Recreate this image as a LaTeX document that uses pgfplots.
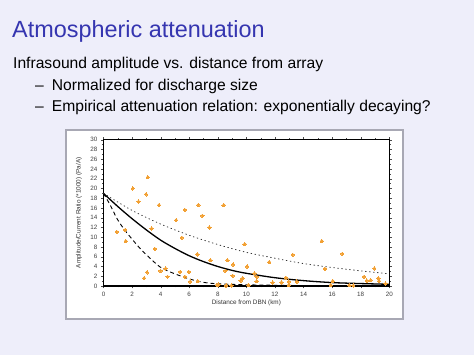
\documentclass[border=0pt]{standalone}
\usepackage{pgfplots}
\pgfplotsset{compat=1.18}
\usepackage{fontspec}
\setmainfont{Liberation Sans}
\definecolor{slidebg}{HTML}{EEEEFA}
\definecolor{titleblue}{HTML}{3535B0}
\definecolor{dotorange}{HTML}{F2A033}
\definecolor{boxgray}{HTML}{A8A8B4}
\begin{document}
\begin{tikzpicture}
\fill[slidebg] (0,0) rectangle (474bp,355bp);
\node[anchor=base west, inner sep=0, text=titleblue, font=\fontsize{23.5}{28}\selectfont] at (12bp,317.3bp) {Atmospheric attenuation};
\node[anchor=base west, inner sep=0, font=\fontsize{15.7}{19}\selectfont] at (13bp,286bp) {Infrasound amplitude vs. distance from array};
\node[anchor=base west, inner sep=0, font=\fontsize{15.7}{19}\selectfont] at (35bp,264.3bp) {–};
\node[anchor=base west, inner sep=0, font=\fontsize{15.7}{19}\selectfont] at (51.7bp,264.3bp) {Normalized for discharge size};
\node[anchor=base west, inner sep=0, font=\fontsize{15.7}{19}\selectfont] at (35bp,243.3bp) {–};
\node[anchor=base west, inner sep=0, font=\fontsize{15.7}{19}\selectfont] at (51.7bp,243.3bp) {Empirical attenuation relation: exponentially decaying?};
\draw[boxgray, line width=1.2bp, fill=white] (66bp,36bp) rectangle (403bp,225bp);
\begin{axis}[
  at={(103.5bp,69bp)}, anchor=south west,
  scale only axis, width=285.8bp, height=146.3bp,
  xmin=0, xmax=20, ymin=0, ymax=30,
  xtick={0,2,...,20}, ytick={0,2,...,30},
  minor x tick num=1, minor y tick num=1,
  tick pos=both, tick align=outside,
  major tick length=2.5bp, minor tick length=1.5bp,
  every tick/.style={black!70, line width=0.3bp},
  axis line style={black, line width=1.1bp},
  /pgf/number format/assume math mode=true,
  ticklabel style={font=\fontsize{6.3}{7}\selectfont, text=black!75},
  xticklabel pos=lower, yticklabel pos=left,
  xlabel={Distance from DBN (km)},
  ylabel={Amplitude/Current Ratio (*1000) (Pa/A)},
  label style={font=\fontsize{6.4}{7}\selectfont, text=black!80},
  xlabel style={at={(axis description cs:0.5,0)}, anchor=north, yshift=-10bp},
  ylabel style={at={(axis description cs:0,0.5)}, anchor=south, yshift=18bp},
  clip=false,
]
\addplot[dotorange, only marks, mark=*, mark size=1.7bp, mark options={fill=dotorange, draw=dotorange, line width=0pt}] coordinates {
(0.93,11.1) (1.52,11.5) (1.56,9.2) (2.05,20.0) (2.45,17.3) (2.98,18.8) (3.1,22.3)
(3.05,2.8) (2.84,1.6) (3.36,11.8) (3.59,7.6) (3.89,16.6) (3.99,3.1) (4.34,3.6)
(4.48,1.9) (5.08,13.5) (5.36,2.9) (5.48,9.9) (5.69,15.6) (5.69,1.9) (5.97,2.9)
(6.06,0.9) (6.64,16.6) (6.57,6.5) (6.6,1.0) (6.92,14.4) (7.41,12.0) (7.48,5.3)
(7.93,0.2) (8.04,0.3) (8.41,16.6) (8.53,3.1) (8.67,5.3) (8.58,0.1) (8.95,0.1)
(9.07,4.4) (9.04,2.1) (9.6,1.1) (9.74,1.6) (9.88,8.6) (10.05,4.0) (10.14,0.2)
(10.56,2.6) (10.72,1.9) (10.72,1.0) (11.6,4.9) (11.84,0.7) (12.45,0.75) (12.77,1.7)
(12.96,0.9) (12.96,0.2) (13.24,6.4) (13.52,0.9) (15.27,9.2) (15.5,3.5) (15.9,0.2)
(16.04,1.0) (16.71,6.6) (17.2,0.2) (17.48,0.1) (18.23,1.9) (18.42,1.1) (18.69,1.2)
(18.95,3.6) (19.23,1.6) (19.28,1.0) (19.74,0.5)
};
\addplot[black, line width=1.3bp, smooth] coordinates {
(0,19) (1,16.3) (2,13.8) (3,11.5) (4,9.4) (5,7.7) (6,6.2) (7,5.0) (8,4.0) (9,3.2)
(10,2.6) (12,1.7) (14,1.1) (16,0.7) (18,0.5) (20,0.35)
};
\addplot[black, line width=0.9bp, dash pattern=on 4bp off 3bp, smooth] coordinates {
(0,19) (0.47,16.6) (0.93,13.9) (1.4,11.8) (1.86,10.1) (2.56,7.7) (3.15,6.0) (3.96,3.9)
(4.9,2.6) (6.06,1.4) (7,0.75) (8,0.45) (10,0.25) (12,0.15) (14,0.1) (17,0.07) (20,0.05)
};
\addplot[black!80, line width=0.8bp, dash pattern=on 0.8bp off 3.2bp, line cap=round, smooth] coordinates {
(0,19) (2,15.5) (4,12.7) (6,10.4) (8,8.5) (10,6.9) (12,5.7) (14,4.6) (16,3.8) (18,3.1) (20,2.5)
};
\end{axis}
\end{tikzpicture}
\end{document}
